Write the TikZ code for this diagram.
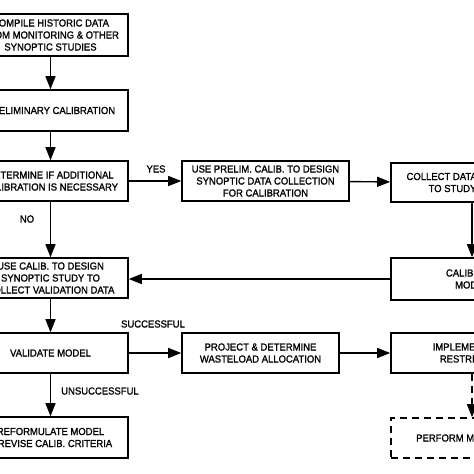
\documentclass[tikz,border=0pt]{standalone}
\usepackage{fontspec}
\setmainfont[FakeStretch=0.93,FakeBold=1.2]{Liberation Sans}
\usetikzlibrary{arrows.meta}
\begin{document}
\begin{tikzpicture}[x=1pt,y=-1pt,
  box/.style={draw,line width=1.6pt,rectangle,inner sep=0pt,align=center,
    font=\fontsize{10.2}{12}\selectfont},
  lbox/.style={box,minimum width=155pt},
  dbox/.style={box,dash pattern=on 7pt off 5pt},
  lab/.style={font=\fontsize{10.2}{12}\selectfont,inner sep=0pt},
  conn/.style={line width=1.4pt,-{Triangle[length=13pt,width=10pt]}},
  dconn/.style={conn,dash pattern=on 7pt off 5pt}]
\useasboundingbox (0,0) rectangle (474,474);
\clip (0,0) rectangle (474,474);
\fill[white] (0,0) rectangle (474,474);
% left column
\node[lbox,minimum height=42pt] (b1) at (50.5,35) {COMPILE HISTORIC DATA\\FROM MONITORING \& OTHER\\SYNOPTIC STUDIES};
\node[lbox,minimum height=41pt] (b2) at (50.5,110.5) {PRELIMINARY CALIBRATION};
\node[lbox,minimum height=40pt] (b3) at (50.5,181) {DETERMINE IF ADDITIONAL\\CALIBRATION IS NECESSARY};
\node[lbox,minimum height=40pt] (b7) at (50.5,278) {USE CALIB. TO DESIGN\\SYNOPTIC STUDY TO\\COLLECT VALIDATION DATA};
\node[lbox,minimum height=40pt] (b8) at (50.5,353) {VALIDATE MODEL};
\node[lbox,minimum height=41pt] (b12) at (50.5,437.5) {REFORMULATE MODEL\\\& REVISE CALIB. CRITERIA};
% middle column
\node[box,minimum width=167pt,minimum height=40pt] (b4) at (265.5,181) {USE PRELIM. CALIB. TO DESIGN\\SYNOPTIC DATA COLLECTION\\FOR CALIBRATION};
\node[box,minimum width=157pt,minimum height=40pt] (b9) at (260.5,353) {PROJECT \& DETERMINE\\WASTELOAD ALLOCATION};
% right column
\node[box,minimum width=162pt,minimum height=39pt] (b5) at (472,182.5) {COLLECT DATA ACCORDING\\TO STUDY DESIGN};
\node[box,minimum width=162pt,minimum height=42pt] (b6) at (472,279) {CALIBRATE\\MODEL};
\node[box,minimum width=162pt,minimum height=40pt] (b10) at (472,353) {IMPLEMENT WLA\\RESTRICTION};
\node[dbox,minimum width=162pt,minimum height=40pt] (b11) at (472,438) {PERFORM MONITORING};
% connectors
\draw[conn] (b1) -- (b2);
\draw[conn] (b2) -- (b3);
\draw[conn] (b3) -- (b7);
\draw[conn] (b7) -- (b8);
\draw[conn] (b8) -- (b12);
\draw[conn] (b3) -- (b4);
\draw[conn] (b4) -- (b5);
\draw[conn] (b5) -- (b6);
\draw[conn] (b6.west) -- (b6.west -| b7.east);
\draw[conn] (b8) -- (b9);
\draw[conn] (b9) -- (b10);
\draw[dconn] (b10) -- (b11);
% labels
\node[lab] (yes) at (156,169) {YES};
\node[lab] (no) at (27,219) {NO};
\node[lab] (succ) at (153,324) {SUCCESSFUL};
\node[lab] (unsucc) at (100,391) {UNSUCCESSFUL};
\end{tikzpicture}
\end{document}
